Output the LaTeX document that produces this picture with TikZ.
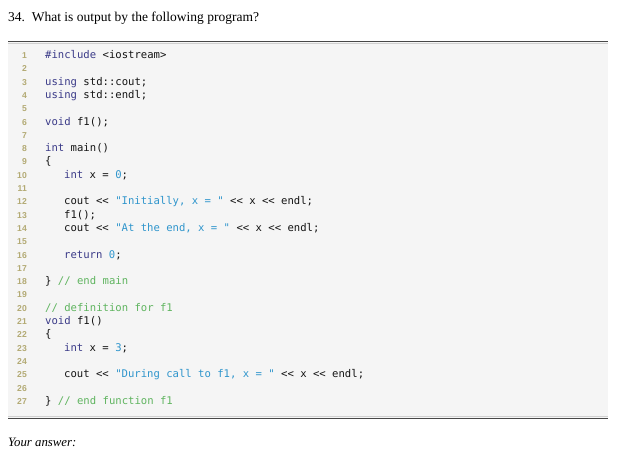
\documentclass[tikz,border=0pt]{standalone}
\usepackage{fontspec}
\setmainfont{Liberation Serif}
\newfontfamily\codefont{DejaVu Sans Mono}
\newfontfamily\numfont{Liberation Sans}
\definecolor{kwc}{HTML}{3A3A88}
\definecolor{txtc}{HTML}{141414}
\definecolor{strc}{HTML}{2F95CC}
\definecolor{cmtc}{HTML}{5FB45F}
\definecolor{numc}{HTML}{B3AA74}
\definecolor{bgc}{HTML}{F5F5F5}
\definecolor{rulec}{HTML}{484848}
\definecolor{rulelc}{HTML}{D0D0D0}
\newcommand\ckw[1]{{\color{kwc}#1}}
\newcommand\cstr[1]{{\color{strc}#1}}
\newcommand\ccmt[1]{{\color{cmtc}#1}}
\newcommand\cnum[1]{{\color{strc}#1}}
\begin{document}
\begin{tikzpicture}[x=1pt,y=-1pt,
  codeline/.style={anchor=base west, inner sep=0pt, text=txtc, font=\codefont\fontsize{10.6}{12}\selectfont},
  lnum/.style={anchor=base east, inner sep=0pt, text=numc, font=\numfont\bfseries\fontsize{8.6}{10}\selectfont},
  prose/.style={anchor=base west, inner sep=0pt, text=black, font=\fontsize{13.5}{16}\selectfont}]
\useasboundingbox (0,0) rectangle (619,459);
\fill[white] (0,0) rectangle (619,459);
% code box
\fill[bgc] (8,42) rectangle (608,418);
\draw[rulelc, line width=0.8pt] (8,43.3) -- (608,43.3);
\draw[rulelc, line width=0.8pt] (8,416.8) -- (608,416.8);
\draw[rulec, line width=1.4pt] (8,41.7) -- (608,41.7);
\draw[rulec, line width=1.4pt] (8,418.3) -- (608,418.3);
% title and answer
\node[prose] (title) at (8,21.5) {34.\ \ What is output by the following program?};
\node[prose, font=\itshape\fontsize{12.8}{15}\selectfont] (answer) at (8,446) {Your answer:};
% line numbers
\foreach \n in {1,...,27} {
  \node[lnum] (n\n) at (27,{58.5+(\n-1)*13.3}) {\n};
}
% code
\def\ly#1{{58.5+(#1-1)*13.3}}
\node[codeline] (c1)  at (45,\ly{1})  {\ckw{\#include} <iostream>};
\node[codeline] (c3)  at (45,\ly{3})  {\ckw{using} std::cout;};
\node[codeline] (c4)  at (45,\ly{4})  {\ckw{using} std::endl;};
\node[codeline] (c6)  at (45,\ly{6})  {\ckw{void} f1();};
\node[codeline] (c8)  at (45,\ly{8})  {\ckw{int} main()};
\node[codeline] (c9)  at (45,\ly{9})  {\{};
\node[codeline] (c10) at (64,\ly{10}) {\ckw{int} x = \cnum{0};};
\node[codeline] (c12) at (64,\ly{12}) {cout << \cstr{"Initially, x = "} << x << endl;};
\node[codeline] (c13) at (64,\ly{13}) {f1();};
\node[codeline] (c14) at (64,\ly{14}) {cout << \cstr{"At the end, x = "} << x << endl;};
\node[codeline] (c16) at (64,\ly{16}) {\ckw{return} \cnum{0};};
\node[codeline] (c18) at (45,\ly{18}) {\} \ccmt{// end main}};
\node[codeline] (c20) at (45,\ly{20}) {\ccmt{// definition for f1}};
\node[codeline] (c21) at (45,\ly{21}) {\ckw{void} f1()};
\node[codeline] (c22) at (45,\ly{22}) {\{};
\node[codeline] (c23) at (64,\ly{23}) {\ckw{int} x = \cnum{3};};
\node[codeline] (c25) at (64,\ly{25}) {cout << \cstr{"During call to f1, x = "} << x << endl;};
\node[codeline] (c27) at (45,\ly{27}) {\} \ccmt{// end function f1}};
\end{tikzpicture}
\end{document}
